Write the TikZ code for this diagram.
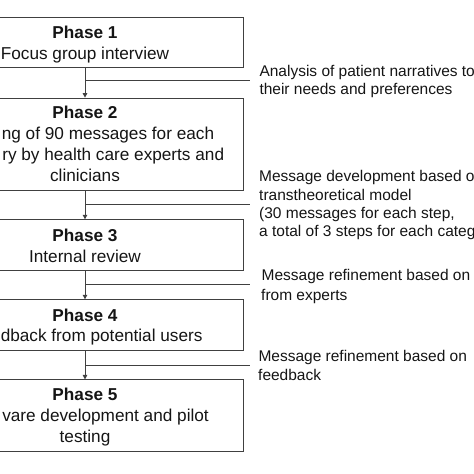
\documentclass[tikz,border=0pt]{standalone}
\usepackage{fontspec}
\setmainfont{Liberation Sans}
\usetikzlibrary{arrows.meta}
\definecolor{linegray}{HTML}{404040}
\definecolor{textblack}{HTML}{151515}
\begin{document}
\begin{tikzpicture}[x=1pt,y=-1pt,
  box/.style={draw=linegray,line width=1pt,minimum width=316pt,minimum height=#1,inner sep=0pt},
  btxt/.style={inner sep=0pt,text=textblack,font=\fontsize{17.2}{21}\selectfont},
  ptxt/.style={btxt,font=\bfseries\fontsize{17.2}{21}\selectfont},
  rtxt/.style={inner sep=0pt,text=textblack,anchor=base west,font=\fontsize{15.5}{18}\selectfont},
  flow/.style={draw=linegray,line width=1pt,-{Triangle[length=4.5pt,width=4.5pt]}},
  branch/.style={draw=linegray,line width=1pt}]
\useasboundingbox (0,0) rectangle (474,474);
\clip (0,0) rectangle (474,474);
\fill[white] (0,0) rectangle (474,474);
% boxes
\node[box=50.4pt]  (b1) at (85,42.5) {};
\node[box=92.7pt]  (b2) at (85,144.5) {};
\node[box=50.4pt]  (b3) at (85,245) {};
\node[box=50.4pt]  (b4) at (85,325) {};
\node[box=71.7pt]  (b5) at (85,415.8) {};
% box texts
\node[ptxt,anchor=base] (p1) at (85,38.3) {Phase 1};
\node[btxt,anchor=base] (t1) at (85,59.3) {Focus group interview};
\node[ptxt,anchor=base] (p2) at (85,118.3) {Phase 2};
\node[btxt,anchor=base east] (t2a) at (214.3,139) {ng of 90 messages for each};
\node[btxt,anchor=base east] (t2b) at (224.3,160) {ry by health care experts and};
\node[btxt,anchor=base] (t2c) at (85,181) {clinicians};
\node[ptxt,anchor=base] (p3) at (85,241) {Phase 3};
\node[btxt,anchor=base] (t3) at (85,262.3) {Internal review};
\node[ptxt,anchor=base] (p4) at (85,321) {Phase 4};
\node[btxt,anchor=base east] (t4) at (202.7,341.7) {dback from potential users};
\node[ptxt,anchor=base] (p5) at (85,400.7) {Phase 5};
\node[btxt,anchor=base east] (t5a) at (209,421.7) {vare development and pilot};
\node[btxt,anchor=base] (t5b) at (85,442.7) {testing};
% flow arrows
\draw[flow] (b1.south) -- (b2.north);
\draw[flow] (b2.south) -- (b3.north);
\draw[flow] (b3.south) -- (b4.north);
\draw[flow] (b4.south) -- (b5.north);
% branches
\coordinate (j1) at (85,80.7);  \coordinate (e1) at (250,80.7);
\coordinate (j2) at (85,204);   \coordinate (e2) at (250,204);
\coordinate (j3) at (85,284.5); \coordinate (e3) at (250,284.5);
\coordinate (j4) at (85,365);   \coordinate (e4) at (250,365);
\draw[branch] (j1) -- (e1);
\draw[branch] (j2) -- (e2);
\draw[branch] (j3) -- (e3);
\draw[branch] (j4) -- (e4);
% side texts
\node[rtxt] (r1a) at (259.3,76.7) {Analysis of patient narratives to};
\node[rtxt] (r1b) at (259.3,94.3) {their needs and preferences};
\node[rtxt] (r2a) at (259,181.7) {Message development based o};
\node[rtxt] (r2b) at (259,200) {transtheoretical model};
\node[rtxt] (r2c) at (259,218.3) {(30 messages for each step,};
\node[rtxt] (r2d) at (259,236.7) {a total of 3 steps for each categ};
\node[rtxt] (r3a) at (261.5,280) {Message refinement based on};
\node[rtxt] (r3b) at (261,300) {from experts};
\node[rtxt] (r4a) at (258.3,361.7) {Message refinement based on};
\node[rtxt] (r4b) at (258,380) {feedback};
\end{tikzpicture}
\end{document}
